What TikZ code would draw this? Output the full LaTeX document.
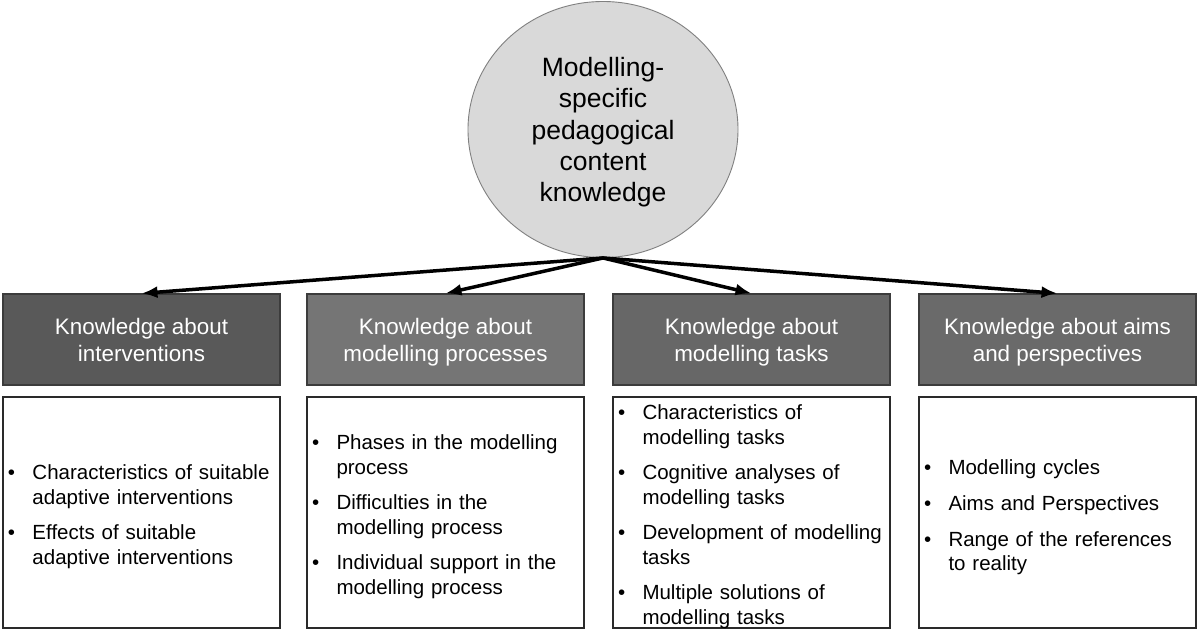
\documentclass[tikz,border=0pt]{standalone}
\usepackage{fontspec}
\setmainfont{Liberation Sans}
\usetikzlibrary{shapes.geometric,arrows.meta}
\definecolor{hA}{HTML}{595959}
\definecolor{hB}{HTML}{757575}
\definecolor{hC}{HTML}{676767}
\definecolor{hD}{HTML}{6A6A6A}
\definecolor{hdrline}{HTML}{3C3C3C}
\definecolor{boxline}{HTML}{2A2A2A}
\definecolor{circfill}{HTML}{D9D9D9}
\definecolor{circline}{HTML}{808080}
\newcommand\bitem[1]{\par\hangindent=24.5pt\hangafter=1\noindent\makebox[24.5pt][l]{\textbullet}#1}
\begin{document}
\begin{tikzpicture}[x=1pt,y=-1pt,
  hdr/.style={draw=hdrline, line width=1.2pt, minimum width=277pt, minimum height=91pt, inner sep=0pt, text=white, align=center, font=\fontsize{22.4}{27}\selectfont},
  listbox/.style={draw=boxline, line width=1.4pt, fill=white, minimum width=277pt, minimum height=231pt, inner sep=0pt},
  listtext/.style={anchor=west, inner sep=0pt, text width=268pt, align=left, font=\fontsize{20.5}{24.5}\selectfont},
  conn/.style={line width=3.5pt, -{Latex[length=16pt,width=12pt]}}
]
\useasboundingbox (0,0) rectangle (1200,632);
\fill[white] (0,0) rectangle (1200,632);

\node[ellipse, draw=circline, line width=0.9pt, fill=circfill, minimum width=270pt, minimum height=256pt, inner sep=0pt, align=center, font=\fontsize{26.5}{31.4}\selectfont] (c) at (603,129.5)
  {Modelling-\\specific\\pedagogical\\content\\\smash{knowledge}};

\node[hdr, fill=hA] (h1) at (141.5,339.5) {Knowledge about\\\smash{interventions}};
\node[hdr, fill=hB] (h2) at (445.5,339.5) {Knowledge about\\\smash{modelling processes}};
\node[hdr, fill=hC] (h3) at (751.5,339.5) {Knowledge about\\\smash{modelling tasks}};
\node[hdr, fill=hD] (h4) at (1057.5,339.5) {Knowledge about aims\\\smash{and perspectives}};

\node[listbox] (b1) at (141.5,512.5) {};
\node[listbox] (b2) at (445.5,512.5) {};
\node[listbox] (b3) at (751.5,512.5) {};
\node[listbox] (b4) at (1057.5,512.5) {};

\node[listtext] (t1) at ([xshift=5.5pt,yshift=6pt]b1.west) {\setlength{\parskip}{11pt}%
  \bitem{Characteristics of suitable\newline adaptive interventions}%
  \bitem{Effects of suitable\newline adaptive interventions}\par};
\node[listtext] (t2) at ([xshift=5.5pt,yshift=6pt]b2.west) {\setlength{\parskip}{11pt}%
  \bitem{Phases in the modelling\newline process}%
  \bitem{Difficulties in the\newline modelling process}%
  \bitem{Individual support in the\newline modelling process}\par};
\node[listtext] (t3) at ([xshift=5.5pt,yshift=6pt]b3.west) {\setlength{\parskip}{11pt}%
  \bitem{Characteristics of\newline modelling tasks}%
  \bitem{Cognitive analyses of\newline modelling tasks}%
  \bitem{Development of modelling\newline tasks}%
  \bitem{Multiple solutions of\newline modelling tasks}\par};
\node[listtext] (t4) at ([xshift=5.5pt,yshift=6pt]b4.west) {\setlength{\parskip}{11.5pt}%
  \bitem{Modelling cycles}%
  \bitem{Aims and Perspectives}%
  \bitem{Range of the references\newline to reality}\par};

\draw[conn] (c.south) -- (h1.north);
\draw[conn] (c.south) -- (h2.north);
\draw[conn] (c.south) -- (h3.north);
\draw[conn] (c.south) -- (h4.north);
\end{tikzpicture}
\end{document}
